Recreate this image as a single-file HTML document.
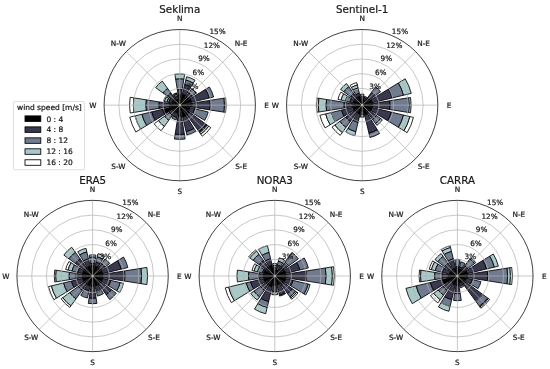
<!DOCTYPE html><html><head><meta charset="utf-8"><style>html,body{margin:0;padding:0;background:#fff;}svg{display:block;}text{font-family:"DejaVu Sans","Liberation Sans",sans-serif;fill:#1a1a1a;stroke:#1a1a1a;stroke-width:0.22px;}</style></head><body>
<svg width="550" height="369" viewBox="0 0 550 369">
<rect width="550" height="369" fill="#fff"/>
<g><path d="M208.72 126.2L210.76 127.68A38.33 38.33 0 0 1 202.28 136.16L200.8 134.12A35.81 35.81 0 0 0 208.72 126.2ZM164.34 126.37L161.07 130.85A31.77 31.77 0 0 1 154.05 123.83L158.53 120.56A26.23 26.23 0 0 0 164.34 126.37ZM140.62 129.13L135.89 132.03A51.44 51.44 0 0 1 129.73 117.16L135.12 115.86A45.89 45.89 0 0 0 140.62 129.13ZM133.92 112.41L130.19 113A50.18 50.18 0 0 1 130.19 97.3L133.92 97.89A46.4 46.4 0 0 0 133.92 112.41ZM164.55 101.5L163.57 101.26A16.64 16.64 0 0 1 165.56 96.45L166.42 96.98A15.63 15.63 0 0 0 164.55 101.5ZM173.43 94.83L173.16 94.4A12.61 12.61 0 0 1 176.81 92.89L176.92 93.38A12.1 12.1 0 0 0 173.43 94.83Z" fill="#ffffff" stroke="#000" stroke-width="0.85"/><path d="M175.65 79.25L174.86 74.27A31.27 31.27 0 0 1 184.64 74.27L183.85 79.25A26.23 26.23 0 0 0 175.65 79.25ZM185.75 80.14L186.58 76.71A29.25 29.25 0 0 1 195.03 80.21L193.19 83.22A25.72 25.72 0 0 0 185.75 80.14ZM191.61 88.83L191.9 88.42A20.68 20.68 0 0 1 196.48 93L196.07 93.29A20.17 20.17 0 0 0 191.61 88.83ZM223.83 98.17L225.58 97.89A46.4 46.4 0 0 1 225.58 112.41L223.83 112.13A44.63 44.63 0 0 0 223.83 98.17ZM207.09 125.01L208.72 126.2A35.81 35.81 0 0 1 200.8 134.12L199.61 132.49A33.79 33.79 0 0 0 207.09 125.01ZM168.78 120.25L164.34 126.37A26.23 26.23 0 0 1 158.53 120.56L164.65 116.12A18.66 18.66 0 0 0 168.78 120.25ZM146.64 125.44L140.62 129.13A45.89 45.89 0 0 1 135.12 115.86L141.99 114.22A38.83 38.83 0 0 0 146.64 125.44ZM146.38 110.44L133.92 112.41A46.4 46.4 0 0 1 133.92 97.89L146.38 99.86A33.79 33.79 0 0 0 146.38 110.44ZM167 102.09L164.55 101.5A15.63 15.63 0 0 1 166.42 96.98L168.57 98.3A13.11 13.11 0 0 0 167 102.09ZM163.02 93L155.68 87.66A29.76 29.76 0 0 1 162.26 81.08L167.6 88.42A20.68 20.68 0 0 0 163.02 93ZM173.95 95.69L173.43 94.83A12.1 12.1 0 0 1 176.92 93.38L177.16 94.36A11.1 11.1 0 0 0 173.95 95.69Z" fill="#a9c8c8" stroke="#000" stroke-width="0.85"/><path d="M177.3 89.71L175.65 79.25A26.23 26.23 0 0 1 183.85 79.25L182.2 89.71A15.63 15.63 0 0 0 177.3 89.71ZM184.69 84.55L185.75 80.14A25.72 25.72 0 0 1 193.19 83.22L190.82 87.09A21.18 21.18 0 0 0 184.69 84.55ZM188.64 92.91L191.61 88.83A20.17 20.17 0 0 1 196.07 93.29L191.99 96.26A15.13 15.13 0 0 0 188.64 92.91ZM205.55 89.34L209.42 86.97A34.8 34.8 0 0 1 213.59 97.03L209.17 98.09A30.26 30.26 0 0 0 205.55 89.34ZM209.64 100.42L223.83 98.17A44.63 44.63 0 0 1 223.83 112.13L209.64 109.88A30.26 30.26 0 0 0 209.64 100.42ZM194.46 108.68L208.19 111.98A29.25 29.25 0 0 1 204.69 120.43L192.65 113.06A15.13 15.13 0 0 0 194.46 108.68ZM206.27 124.42L207.09 125.01A33.79 33.79 0 0 1 199.61 132.49L199.02 131.67A32.78 32.78 0 0 0 206.27 124.42ZM193.98 128.37L195.82 131.38A30.76 30.76 0 0 1 186.93 135.06L186.11 131.63A27.23 27.23 0 0 0 193.98 128.37ZM184.33 134.04L185.11 139.02A34.29 34.29 0 0 1 174.39 139.02L175.17 134.04A29.25 29.25 0 0 0 184.33 134.04ZM176.81 117.41L176.22 119.86A15.13 15.13 0 0 1 171.84 118.05L173.16 115.9A12.61 12.61 0 0 0 176.81 117.41ZM172.34 115.35L168.78 120.25A18.66 18.66 0 0 1 164.65 116.12L169.55 112.56A12.61 12.61 0 0 0 172.34 115.35ZM155.24 120.17L146.64 125.44A38.83 38.83 0 0 1 141.99 114.22L151.8 111.86A28.75 28.75 0 0 0 155.24 120.17ZM159.33 108.38L146.38 110.44A33.79 33.79 0 0 1 146.38 99.86L159.33 101.92A20.68 20.68 0 0 0 159.33 108.38ZM168.96 102.56L167 102.09A13.11 13.11 0 0 1 168.57 98.3L170.29 99.35A11.1 11.1 0 0 0 168.96 102.56ZM167.51 96.26L163.02 93A20.68 20.68 0 0 1 167.6 88.42L170.86 92.91A15.13 15.13 0 0 0 167.51 96.26ZM175.01 97.41L173.95 95.69A11.1 11.1 0 0 1 177.16 94.36L177.63 96.32A9.08 9.08 0 0 0 175.01 97.41Z" fill="#707b90" stroke="#000" stroke-width="0.85"/><path d="M178.17 95.19L177.3 89.71A15.63 15.63 0 0 1 182.2 89.71L181.33 95.19A10.09 10.09 0 0 0 178.17 95.19ZM182.34 94.36L184.69 84.55A21.18 21.18 0 0 1 190.82 87.09L185.55 95.69A11.1 11.1 0 0 0 182.34 94.36ZM186.27 96.17L188.64 92.91A15.13 15.13 0 0 1 191.99 96.26L188.73 98.63A11.1 11.1 0 0 0 186.27 96.17ZM190.07 98.83L205.55 89.34A30.26 30.26 0 0 1 209.17 98.09L191.52 102.32A12.1 12.1 0 0 0 190.07 98.83ZM191.7 103.26L209.64 100.42A30.26 30.26 0 0 1 209.64 109.88L191.7 107.04A12.1 12.1 0 0 0 191.7 103.26ZM189.56 107.5L194.46 108.68A15.13 15.13 0 0 1 192.65 113.06L188.35 110.42A10.09 10.09 0 0 0 189.56 107.5ZM189.54 112.26L206.27 124.42A32.78 32.78 0 0 1 199.02 131.67L186.86 114.94A12.1 12.1 0 0 0 189.54 112.26ZM186.07 115.47L193.98 128.37A27.23 27.23 0 0 1 186.11 131.63L182.58 116.92A12.1 12.1 0 0 0 186.07 115.47ZM181.49 116.11L184.33 134.04A29.25 29.25 0 0 1 175.17 134.04L178.01 116.11A11.1 11.1 0 0 0 181.49 116.11ZM177.87 113L176.81 117.41A12.61 12.61 0 0 1 173.16 115.9L175.53 112.03A8.07 8.07 0 0 0 177.87 113ZM175.01 111.68L172.34 115.35A12.61 12.61 0 0 1 169.55 112.56L173.22 109.89A8.07 8.07 0 0 0 175.01 111.68ZM164.7 114.37L155.24 120.17A28.75 28.75 0 0 1 151.8 111.86L162.59 109.27A17.65 17.65 0 0 0 164.7 114.37ZM169.79 106.73L159.33 108.38A20.68 20.68 0 0 1 159.33 101.92L169.79 103.57A10.09 10.09 0 0 0 169.79 106.73ZM171.9 103.27L168.96 102.56A11.1 11.1 0 0 1 170.29 99.35L172.87 100.93A8.07 8.07 0 0 0 171.9 103.27ZM173.22 100.41L167.51 96.26A15.13 15.13 0 0 1 170.86 92.91L175.01 98.62A8.07 8.07 0 0 0 173.22 100.41ZM176.59 99.99L175.01 97.41A9.08 9.08 0 0 1 177.63 96.32L178.34 99.27A6.05 6.05 0 0 0 176.59 99.99Z" fill="#38384e" stroke="#000" stroke-width="0.85"/><path d="M179.52 103.67L178.17 95.19A10.09 10.09 0 0 1 181.33 95.19L179.98 103.67A1.5 1.5 0 0 0 179.52 103.67ZM180.1 103.69L182.34 94.36A11.1 11.1 0 0 1 185.55 95.69L180.53 103.87A1.5 1.5 0 0 0 180.1 103.69ZM180.63 103.94L186.27 96.17A11.1 11.1 0 0 1 188.73 98.63L180.96 104.27A1.5 1.5 0 0 0 180.63 103.94ZM181.03 104.37L190.07 98.83A12.1 12.1 0 0 1 191.52 102.32L181.21 104.8A1.5 1.5 0 0 0 181.03 104.37ZM181.23 104.92L191.7 103.26A12.1 12.1 0 0 1 191.7 107.04L181.23 105.38A1.5 1.5 0 0 0 181.23 104.92ZM181.21 105.5L189.56 107.5A10.09 10.09 0 0 1 188.35 110.42L181.03 105.93A1.5 1.5 0 0 0 181.21 105.5ZM180.96 106.03L189.54 112.26A12.1 12.1 0 0 1 186.86 114.94L180.63 106.36A1.5 1.5 0 0 0 180.96 106.03ZM180.53 106.43L186.07 115.47A12.1 12.1 0 0 1 182.58 116.92L180.1 106.61A1.5 1.5 0 0 0 180.53 106.43ZM179.98 106.63L181.49 116.11A11.1 11.1 0 0 1 178.01 116.11L179.52 106.63A1.5 1.5 0 0 0 179.98 106.63ZM179.4 106.61L177.87 113A8.07 8.07 0 0 1 175.53 112.03L178.97 106.43A1.5 1.5 0 0 0 179.4 106.61ZM178.87 106.36L175.01 111.68A8.07 8.07 0 0 1 173.22 109.89L178.54 106.03A1.5 1.5 0 0 0 178.87 106.36ZM178.47 105.93L164.7 114.37A17.65 17.65 0 0 1 162.59 109.27L178.29 105.5A1.5 1.5 0 0 0 178.47 105.93ZM178.27 105.38L169.79 106.73A10.09 10.09 0 0 1 169.79 103.57L178.27 104.92A1.5 1.5 0 0 0 178.27 105.38ZM178.29 104.8L171.9 103.27A8.07 8.07 0 0 1 172.87 100.93L178.47 104.37A1.5 1.5 0 0 0 178.29 104.8ZM178.54 104.27L173.22 100.41A8.07 8.07 0 0 1 175.01 98.62L178.87 103.94A1.5 1.5 0 0 0 178.54 104.27ZM178.97 103.87L176.59 99.99A6.05 6.05 0 0 1 178.34 99.27L179.4 103.69A1.5 1.5 0 0 0 178.97 103.87Z" fill="#000000" stroke="#000" stroke-width="0.85"/><circle cx="179.75" cy="105.15" r="16.7" fill="none" stroke="#b0b0b0" stroke-width="0.7"/><circle cx="179.75" cy="105.15" r="31.44" fill="none" stroke="#b0b0b0" stroke-width="0.7"/><circle cx="179.75" cy="105.15" r="46.17" fill="none" stroke="#b0b0b0" stroke-width="0.7"/><circle cx="179.75" cy="105.15" r="60.91" fill="none" stroke="#b0b0b0" stroke-width="0.7"/><line x1="179.75" y1="105.15" x2="179.75" y2="29.5" stroke="#b0b0b0" stroke-width="0.7"/><line x1="179.75" y1="105.15" x2="233.24" y2="51.66" stroke="#b0b0b0" stroke-width="0.7"/><line x1="179.75" y1="105.15" x2="255.4" y2="105.15" stroke="#b0b0b0" stroke-width="0.7"/><line x1="179.75" y1="105.15" x2="233.24" y2="158.64" stroke="#b0b0b0" stroke-width="0.7"/><line x1="179.75" y1="105.15" x2="179.75" y2="180.8" stroke="#b0b0b0" stroke-width="0.7"/><line x1="179.75" y1="105.15" x2="126.26" y2="158.64" stroke="#b0b0b0" stroke-width="0.7"/><line x1="179.75" y1="105.15" x2="104.1" y2="105.15" stroke="#b0b0b0" stroke-width="0.7"/><line x1="179.75" y1="105.15" x2="126.26" y2="51.66" stroke="#b0b0b0" stroke-width="0.7"/><circle cx="179.75" cy="105.15" r="75.65" fill="none" stroke="#000" stroke-width="0.75"/><text x="179.75" y="18.35" font-size="7.3" text-anchor="middle" dominant-baseline="central">N</text><text x="241.13" y="43.77" font-size="7.3" text-anchor="middle" dominant-baseline="central">N-E</text><text x="266.55" y="105.15" font-size="7.3" text-anchor="middle" dominant-baseline="central">E</text><text x="241.13" y="166.53" font-size="7.3" text-anchor="middle" dominant-baseline="central">S-E</text><text x="179.75" y="191.95" font-size="7.3" text-anchor="middle" dominant-baseline="central">S</text><text x="118.37" y="166.53" font-size="7.3" text-anchor="middle" dominant-baseline="central">S-W</text><text x="92.95" y="105.15" font-size="7.3" text-anchor="middle" dominant-baseline="central">W</text><text x="118.37" y="43.77" font-size="7.3" text-anchor="middle" dominant-baseline="central">N-W</text><text x="186.85" y="88.64" font-size="7.3">3%</text><text x="192.49" y="75.03" font-size="7.3">6%</text><text x="198.13" y="61.41" font-size="7.3">9%</text><text x="203.77" y="47.79" font-size="7.3">12%</text><text x="209.41" y="34.18" font-size="7.3">15%</text><text x="179.75" y="13" font-size="10.3" text-anchor="middle">Seklima</text></g>
<g><path d="M409.77 116.57L413.45 117.45A52.7 52.7 0 0 1 407.14 132.69L403.91 130.71A48.92 48.92 0 0 0 409.77 116.57ZM342.34 132.49L340.26 135.34A37.32 37.32 0 0 1 332.01 127.09L334.86 125.01A33.79 33.79 0 0 0 342.34 132.49ZM330.16 124.78L325.09 127.89A43.52 43.52 0 0 1 319.88 115.31L325.67 113.92A37.57 37.57 0 0 0 330.16 124.78ZM318.86 112.01L317.12 112.29A45.64 45.64 0 0 1 317.12 98.01L318.86 98.29A43.88 43.88 0 0 0 318.86 112.01ZM341.11 100.09L337.93 99.32A24.96 24.96 0 0 1 340.91 92.11L343.71 93.82A21.69 21.69 0 0 0 341.11 100.09ZM351.4 87.52L350.08 85.37A23.2 23.2 0 0 1 356.78 82.59L357.37 85.04A20.68 20.68 0 0 0 351.4 87.52Z" fill="#ffffff" stroke="#000" stroke-width="0.85"/><path d="M398.32 83.01L405.2 78.8A50.43 50.43 0 0 1 411.24 93.38L403.39 95.26A42.36 42.36 0 0 0 398.32 83.01ZM408.53 97.81L410.52 97.5A48.92 48.92 0 0 1 410.52 112.8L408.53 112.49A46.9 46.9 0 0 0 408.53 97.81ZM403.39 115.04L409.77 116.57A48.92 48.92 0 0 1 403.91 130.71L398.32 127.29A42.36 42.36 0 0 0 403.39 115.04ZM380.56 118.49L382.4 119.82A24.96 24.96 0 0 1 376.87 125.35L375.54 123.51A22.7 22.7 0 0 0 380.56 118.49ZM355.84 131.63L354.84 135.8A31.52 31.52 0 0 1 345.73 132.03L347.97 128.37A27.23 27.23 0 0 0 355.84 131.63ZM346.04 127.39L342.34 132.49A33.79 33.79 0 0 1 334.86 125.01L339.96 121.31A27.49 27.49 0 0 0 346.04 127.39ZM335.32 121.62L330.16 124.78A37.57 37.57 0 0 1 325.67 113.92L331.55 112.51A31.52 31.52 0 0 0 335.32 121.62ZM326.58 110.79L318.86 112.01A43.88 43.88 0 0 1 318.86 98.29L326.58 99.51A36.06 36.06 0 0 0 326.58 110.79ZM345.53 101.15L341.11 100.09A21.69 21.69 0 0 1 343.71 93.82L347.58 96.19A17.15 17.15 0 0 0 345.53 101.15ZM343.84 91.81L340.58 89.44A26.73 26.73 0 0 1 346.49 83.53L348.86 86.79A22.7 22.7 0 0 0 343.84 91.81ZM352.98 90.1L351.4 87.52A20.68 20.68 0 0 1 357.37 85.04L358.08 87.99A17.65 17.65 0 0 0 352.98 90.1Z" fill="#a9c8c8" stroke="#000" stroke-width="0.85"/><path d="M360.86 96.68L360.46 94.19A11.1 11.1 0 0 1 363.94 94.19L363.54 96.68A8.57 8.57 0 0 0 360.86 96.68ZM363.97 97.79L364.32 96.32A9.08 9.08 0 0 1 366.94 97.41L366.15 98.7A7.57 7.57 0 0 0 363.97 97.79ZM371.69 92.09L375.54 86.79A22.7 22.7 0 0 1 380.56 91.81L375.26 95.66A16.14 16.14 0 0 0 371.69 92.09ZM388.43 89.08L398.32 83.01A42.36 42.36 0 0 1 403.39 95.26L392.11 97.97A30.76 30.76 0 0 0 388.43 89.08ZM389.6 100.81L408.53 97.81A46.9 46.9 0 0 1 408.53 112.49L389.6 109.49A27.74 27.74 0 0 0 389.6 100.81ZM391.13 112.1L403.39 115.04A42.36 42.36 0 0 1 398.32 127.29L387.57 120.7A29.76 29.76 0 0 0 391.13 112.1ZM376.48 115.53L380.56 118.49A22.7 22.7 0 0 1 375.54 123.51L372.58 119.43A17.65 17.65 0 0 0 376.48 115.53ZM377.22 129.66L379.59 133.53A33.29 33.29 0 0 1 369.97 137.52L368.91 133.1A28.75 28.75 0 0 0 377.22 129.66ZM363.62 114.12L364.09 117.1A12.1 12.1 0 0 1 360.31 117.1L360.78 114.12A9.08 9.08 0 0 0 363.62 114.12ZM358.08 122.31L355.84 131.63A27.23 27.23 0 0 1 347.97 128.37L352.98 120.2A17.65 17.65 0 0 0 358.08 122.31ZM350.34 121.47L346.04 127.39A27.49 27.49 0 0 1 339.96 121.31L345.88 117.01A20.17 20.17 0 0 0 350.34 121.47ZM344.14 116.22L335.32 121.62A31.52 31.52 0 0 1 331.55 112.51L341.6 110.09A21.18 21.18 0 0 0 344.14 116.22ZM344.27 107.99L326.58 110.79A36.06 36.06 0 0 1 326.58 99.51L344.27 102.31A18.16 18.16 0 0 0 344.27 107.99ZM349.94 102.21L345.53 101.15A17.15 17.15 0 0 1 347.58 96.19L351.45 98.56A12.61 12.61 0 0 0 349.94 102.21ZM350.78 96.85L343.84 91.81A22.7 22.7 0 0 1 348.86 86.79L353.9 93.73A14.12 14.12 0 0 0 350.78 96.85ZM355.88 94.83L352.98 90.1A17.65 17.65 0 0 1 358.08 87.99L359.37 93.38A12.1 12.1 0 0 0 355.88 94.83Z" fill="#707b90" stroke="#000" stroke-width="0.85"/><path d="M361.25 99.17L360.86 96.68A8.57 8.57 0 0 1 363.54 96.68L363.15 99.17A6.05 6.05 0 0 0 361.25 99.17ZM363.38 100.25L363.97 97.79A7.57 7.57 0 0 1 366.15 98.7L364.84 100.85A5.04 5.04 0 0 0 363.38 100.25ZM367.54 97.81L371.69 92.09A16.14 16.14 0 0 1 375.26 95.66L369.54 99.81A9.08 9.08 0 0 0 367.54 97.81ZM370.8 99.88L388.43 89.08A30.76 30.76 0 0 1 392.11 97.97L372.01 102.8A10.09 10.09 0 0 0 370.8 99.88ZM372.16 103.57L389.6 100.81A27.74 27.74 0 0 1 389.6 109.49L372.16 106.73A10.09 10.09 0 0 0 372.16 103.57ZM372.01 107.5L391.13 112.1A29.76 29.76 0 0 1 387.57 120.7L370.8 110.42A10.09 10.09 0 0 0 372.01 107.5ZM369.54 110.49L376.48 115.53A17.65 17.65 0 0 1 372.58 119.43L367.54 112.49A9.08 9.08 0 0 0 369.54 110.49ZM367.47 113.75L377.22 129.66A28.75 28.75 0 0 1 368.91 133.1L364.55 114.96A10.09 10.09 0 0 0 367.47 113.75ZM363.15 111.13L363.62 114.12A9.08 9.08 0 0 1 360.78 114.12L361.25 111.13A6.05 6.05 0 0 0 363.15 111.13ZM360.08 113.98L358.08 122.31A17.65 17.65 0 0 1 352.98 120.2L357.46 112.89A9.08 9.08 0 0 0 360.08 113.98ZM356.86 112.49L350.34 121.47A20.17 20.17 0 0 1 345.88 117.01L354.86 110.49A9.08 9.08 0 0 0 356.86 112.49ZM354.46 109.89L344.14 116.22A21.18 21.18 0 0 1 341.6 110.09L353.37 107.27A9.08 9.08 0 0 0 354.46 109.89ZM353.23 106.57L344.27 107.99A18.16 18.16 0 0 1 344.27 102.31L353.23 103.73A9.08 9.08 0 0 0 353.23 106.57ZM353.37 103.03L349.94 102.21A12.61 12.61 0 0 1 351.45 98.56L354.46 100.41A9.08 9.08 0 0 0 353.37 103.03ZM354.86 99.81L350.78 96.85A14.12 14.12 0 0 1 353.9 93.73L356.86 97.81A9.08 9.08 0 0 0 354.86 99.81ZM357.46 97.41L355.88 94.83A12.1 12.1 0 0 1 359.37 93.38L360.08 96.32A9.08 9.08 0 0 0 357.46 97.41Z" fill="#38384e" stroke="#000" stroke-width="0.85"/><path d="M361.97 103.67L361.25 99.17A6.05 6.05 0 0 1 363.15 99.17L362.43 103.67A1.5 1.5 0 0 0 361.97 103.67ZM362.55 103.69L363.38 100.25A5.04 5.04 0 0 1 364.84 100.85L362.98 103.87A1.5 1.5 0 0 0 362.55 103.69ZM363.08 103.94L367.54 97.81A9.08 9.08 0 0 1 369.54 99.81L363.41 104.27A1.5 1.5 0 0 0 363.08 103.94ZM363.48 104.37L370.8 99.88A10.09 10.09 0 0 1 372.01 102.8L363.66 104.8A1.5 1.5 0 0 0 363.48 104.37ZM363.68 104.92L372.16 103.57A10.09 10.09 0 0 1 372.16 106.73L363.68 105.38A1.5 1.5 0 0 0 363.68 104.92ZM363.66 105.5L372.01 107.5A10.09 10.09 0 0 1 370.8 110.42L363.48 105.93A1.5 1.5 0 0 0 363.66 105.5ZM363.41 106.03L369.54 110.49A9.08 9.08 0 0 1 367.54 112.49L363.08 106.36A1.5 1.5 0 0 0 363.41 106.03ZM362.98 106.43L367.47 113.75A10.09 10.09 0 0 1 364.55 114.96L362.55 106.61A1.5 1.5 0 0 0 362.98 106.43ZM362.43 106.63L363.15 111.13A6.05 6.05 0 0 1 361.25 111.13L361.97 106.63A1.5 1.5 0 0 0 362.43 106.63ZM361.85 106.61L360.08 113.98A9.08 9.08 0 0 1 357.46 112.89L361.42 106.43A1.5 1.5 0 0 0 361.85 106.61ZM361.32 106.36L356.86 112.49A9.08 9.08 0 0 1 354.86 110.49L360.99 106.03A1.5 1.5 0 0 0 361.32 106.36ZM360.92 105.93L354.46 109.89A9.08 9.08 0 0 1 353.37 107.27L360.74 105.5A1.5 1.5 0 0 0 360.92 105.93ZM360.72 105.38L353.23 106.57A9.08 9.08 0 0 1 353.23 103.73L360.72 104.92A1.5 1.5 0 0 0 360.72 105.38ZM360.74 104.8L353.37 103.03A9.08 9.08 0 0 1 354.46 100.41L360.92 104.37A1.5 1.5 0 0 0 360.74 104.8ZM360.99 104.27L354.86 99.81A9.08 9.08 0 0 1 356.86 97.81L361.32 103.94A1.5 1.5 0 0 0 360.99 104.27ZM361.42 103.87L357.46 97.41A9.08 9.08 0 0 1 360.08 96.32L361.85 103.69A1.5 1.5 0 0 0 361.42 103.87Z" fill="#000000" stroke="#000" stroke-width="0.85"/><circle cx="362.2" cy="105.15" r="16.7" fill="none" stroke="#b0b0b0" stroke-width="0.7"/><circle cx="362.2" cy="105.15" r="31.44" fill="none" stroke="#b0b0b0" stroke-width="0.7"/><circle cx="362.2" cy="105.15" r="46.17" fill="none" stroke="#b0b0b0" stroke-width="0.7"/><circle cx="362.2" cy="105.15" r="60.91" fill="none" stroke="#b0b0b0" stroke-width="0.7"/><line x1="362.2" y1="105.15" x2="362.2" y2="29.5" stroke="#b0b0b0" stroke-width="0.7"/><line x1="362.2" y1="105.15" x2="415.69" y2="51.66" stroke="#b0b0b0" stroke-width="0.7"/><line x1="362.2" y1="105.15" x2="437.85" y2="105.15" stroke="#b0b0b0" stroke-width="0.7"/><line x1="362.2" y1="105.15" x2="415.69" y2="158.64" stroke="#b0b0b0" stroke-width="0.7"/><line x1="362.2" y1="105.15" x2="362.2" y2="180.8" stroke="#b0b0b0" stroke-width="0.7"/><line x1="362.2" y1="105.15" x2="308.71" y2="158.64" stroke="#b0b0b0" stroke-width="0.7"/><line x1="362.2" y1="105.15" x2="286.55" y2="105.15" stroke="#b0b0b0" stroke-width="0.7"/><line x1="362.2" y1="105.15" x2="308.71" y2="51.66" stroke="#b0b0b0" stroke-width="0.7"/><circle cx="362.2" cy="105.15" r="75.65" fill="none" stroke="#000" stroke-width="0.75"/><text x="362.2" y="18.35" font-size="7.3" text-anchor="middle" dominant-baseline="central">N</text><text x="423.58" y="43.77" font-size="7.3" text-anchor="middle" dominant-baseline="central">N-E</text><text x="449" y="105.15" font-size="7.3" text-anchor="middle" dominant-baseline="central">E</text><text x="423.58" y="166.53" font-size="7.3" text-anchor="middle" dominant-baseline="central">S-E</text><text x="362.2" y="191.95" font-size="7.3" text-anchor="middle" dominant-baseline="central">S</text><text x="300.82" y="166.53" font-size="7.3" text-anchor="middle" dominant-baseline="central">S-W</text><text x="275.4" y="105.15" font-size="7.3" text-anchor="middle" dominant-baseline="central">W</text><text x="300.82" y="43.77" font-size="7.3" text-anchor="middle" dominant-baseline="central">N-W</text><text x="369.3" y="88.64" font-size="7.3">3%</text><text x="374.94" y="75.03" font-size="7.3">6%</text><text x="380.58" y="61.41" font-size="7.3">9%</text><text x="386.22" y="47.79" font-size="7.3">12%</text><text x="391.86" y="34.18" font-size="7.3">15%</text><text x="362.2" y="13" font-size="10.3" text-anchor="middle">Sentinel-1</text></g>
<g><path d="M70.96 305.79L69.77 307.42A38.83 38.83 0 0 1 61.18 298.83L62.81 297.64A36.82 36.82 0 0 0 70.96 305.79ZM56.48 298.14L53.9 299.72A45.39 45.39 0 0 1 48.46 286.6L51.41 285.89A42.36 42.36 0 0 0 56.48 298.14ZM56.24 281.76L54.74 282A38.33 38.33 0 0 1 54.74 270L56.24 270.24A36.82 36.82 0 0 0 56.24 281.76ZM68.08 270.11L65.63 269.52A27.74 27.74 0 0 1 68.95 261.51L71.1 262.82A25.22 25.22 0 0 0 68.08 270.11Z" fill="#ffffff" stroke="#000" stroke-width="0.85"/><path d="M89.64 257.32L89.29 255.08A21.18 21.18 0 0 1 95.91 255.08L95.56 257.32A18.91 18.91 0 0 0 89.64 257.32ZM97.19 256.87L97.96 253.69A22.95 22.95 0 0 1 104.59 256.43L102.88 259.23A19.67 19.67 0 0 0 97.19 256.87ZM140.92 268.35L146.9 267.4A54.97 54.97 0 0 1 146.9 284.6L140.92 283.65A48.92 48.92 0 0 0 140.92 268.35ZM120.06 282.59L123.5 283.42A31.77 31.77 0 0 1 119.69 292.6L116.68 290.76A28.24 28.24 0 0 0 120.06 282.59ZM76 298.85L70.96 305.79A36.82 36.82 0 0 1 62.81 297.64L69.75 292.6A28.24 28.24 0 0 0 76 298.85ZM67.23 291.55L56.48 298.14A42.36 42.36 0 0 1 51.41 285.89L63.67 282.95A29.76 29.76 0 0 0 67.23 291.55ZM69.44 279.67L56.24 281.76A36.82 36.82 0 0 1 56.24 270.24L69.44 272.33A23.45 23.45 0 0 0 69.44 279.67ZM72 271.06L68.08 270.11A25.22 25.22 0 0 1 71.1 262.82L74.54 264.93A21.18 21.18 0 0 0 72 271.06ZM68.94 258.81L63.83 255.1A35.56 35.56 0 0 1 71.7 247.23L75.41 252.34A29.25 29.25 0 0 0 68.94 258.81ZM79.69 254.93L77.71 251.7A28.49 28.49 0 0 1 85.95 248.29L86.83 251.97A24.71 24.71 0 0 0 79.69 254.93Z" fill="#a9c8c8" stroke="#000" stroke-width="0.85"/><path d="M90.63 263.55L89.64 257.32A18.91 18.91 0 0 1 95.56 257.32L94.57 263.55A12.61 12.61 0 0 0 90.63 263.55ZM95.9 262.27L97.19 256.87A19.67 19.67 0 0 1 102.88 259.23L99.98 263.96A14.12 14.12 0 0 0 95.9 262.27ZM101.49 263.76L105.05 258.86A21.18 21.18 0 0 1 109.74 263.55L104.84 267.11A15.13 15.13 0 0 0 101.49 263.76ZM117.54 260.72L123.56 257.03A36.31 36.31 0 0 1 127.91 267.52L121.04 269.17A29.25 29.25 0 0 0 117.54 260.72ZM124.48 270.95L140.92 268.35A48.92 48.92 0 0 1 140.92 283.65L124.48 281.05A32.28 32.28 0 0 0 124.48 270.95ZM110.74 280.36L120.06 282.59A28.24 28.24 0 0 1 116.68 290.76L108.51 285.75A18.66 18.66 0 0 0 110.74 280.36ZM111.37 289.64L116.26 293.19A29.25 29.25 0 0 1 109.79 299.66L106.24 294.77A23.2 23.2 0 0 0 111.37 289.64ZM101.3 290.19L103.4 293.63A20.68 20.68 0 0 1 97.43 296.11L96.49 292.18A16.64 16.64 0 0 0 101.3 290.19ZM96.07 297.92L96.94 303.4A27.74 27.74 0 0 1 88.26 303.4L89.13 297.92A22.19 22.19 0 0 0 96.07 297.92ZM89.07 290.71L87.3 298.07A22.7 22.7 0 0 1 80.74 295.35L84.69 288.9A15.13 15.13 0 0 0 89.07 290.71ZM82.22 290.28L76 298.85A28.24 28.24 0 0 1 69.75 292.6L78.32 286.38A17.65 17.65 0 0 0 82.22 290.28ZM74.11 287.33L67.23 291.55A29.76 29.76 0 0 1 63.67 282.95L71.51 281.06A21.69 21.69 0 0 0 74.11 287.33ZM75.66 278.68L69.44 279.67A23.45 23.45 0 0 1 69.44 272.33L75.66 273.32A17.15 17.15 0 0 0 75.66 278.68ZM77.89 272.47L72 271.06A21.18 21.18 0 0 1 74.54 264.93L79.7 268.09A15.13 15.13 0 0 0 77.89 272.47ZM75.46 263.55L68.94 258.81A29.25 29.25 0 0 1 75.41 252.34L80.15 258.86A21.18 21.18 0 0 0 75.46 263.55ZM83.38 260.95L79.69 254.93A24.71 24.71 0 0 1 86.83 251.97L88.48 258.84A17.65 17.65 0 0 0 83.38 260.95Z" fill="#707b90" stroke="#000" stroke-width="0.85"/><path d="M91.02 266.04L90.63 263.55A12.61 12.61 0 0 1 94.57 263.55L94.18 266.04A10.09 10.09 0 0 0 91.02 266.04ZM94.95 266.19L95.9 262.27A14.12 14.12 0 0 1 99.98 263.96L97.87 267.4A10.09 10.09 0 0 0 94.95 266.19ZM98.53 267.84L101.49 263.76A15.13 15.13 0 0 1 104.84 267.11L100.76 270.07A10.09 10.09 0 0 0 98.53 267.84ZM101.2 270.73L117.54 260.72A29.25 29.25 0 0 1 121.04 269.17L102.41 273.65A10.09 10.09 0 0 0 101.2 270.73ZM102.56 274.42L124.48 270.95A32.28 32.28 0 0 1 124.48 281.05L102.56 277.58A10.09 10.09 0 0 0 102.56 274.42ZM102.41 278.35L110.74 280.36A18.66 18.66 0 0 1 108.51 285.75L101.2 281.27A10.09 10.09 0 0 0 102.41 278.35ZM100.76 281.93L111.37 289.64A23.2 23.2 0 0 1 106.24 294.77L98.53 284.16A10.09 10.09 0 0 0 100.76 281.93ZM97.87 284.6L101.3 290.19A16.64 16.64 0 0 1 96.49 292.18L94.95 285.81A10.09 10.09 0 0 0 97.87 284.6ZM94.18 285.96L96.07 297.92A22.19 22.19 0 0 1 89.13 297.92L91.02 285.96A10.09 10.09 0 0 0 94.18 285.96ZM90.25 285.81L89.07 290.71A15.13 15.13 0 0 1 84.69 288.9L87.33 284.6A10.09 10.09 0 0 0 90.25 285.81ZM86.67 284.16L82.22 290.28A17.65 17.65 0 0 1 78.32 286.38L84.44 281.93A10.09 10.09 0 0 0 86.67 284.16ZM84 281.27L74.11 287.33A21.69 21.69 0 0 1 71.51 281.06L82.79 278.35A10.09 10.09 0 0 0 84 281.27ZM82.64 277.58L75.66 278.68A17.15 17.15 0 0 1 75.66 273.32L82.64 274.42A10.09 10.09 0 0 0 82.64 277.58ZM82.79 273.65L77.89 272.47A15.13 15.13 0 0 1 79.7 268.09L84 270.73A10.09 10.09 0 0 0 82.79 273.65ZM84.44 270.07L75.46 263.55A21.18 21.18 0 0 1 80.15 258.86L86.67 267.84A10.09 10.09 0 0 0 84.44 270.07ZM87.33 267.4L83.38 260.95A17.65 17.65 0 0 1 88.48 258.84L90.25 266.19A10.09 10.09 0 0 0 87.33 267.4Z" fill="#38384e" stroke="#000" stroke-width="0.85"/><path d="M92.37 274.52L91.02 266.04A10.09 10.09 0 0 1 94.18 266.04L92.83 274.52A1.5 1.5 0 0 0 92.37 274.52ZM92.95 274.54L94.95 266.19A10.09 10.09 0 0 1 97.87 267.4L93.38 274.72A1.5 1.5 0 0 0 92.95 274.54ZM93.48 274.79L98.53 267.84A10.09 10.09 0 0 1 100.76 270.07L93.81 275.12A1.5 1.5 0 0 0 93.48 274.79ZM93.88 275.22L101.2 270.73A10.09 10.09 0 0 1 102.41 273.65L94.06 275.65A1.5 1.5 0 0 0 93.88 275.22ZM94.08 275.77L102.56 274.42A10.09 10.09 0 0 1 102.56 277.58L94.08 276.23A1.5 1.5 0 0 0 94.08 275.77ZM94.06 276.35L102.41 278.35A10.09 10.09 0 0 1 101.2 281.27L93.88 276.78A1.5 1.5 0 0 0 94.06 276.35ZM93.81 276.88L100.76 281.93A10.09 10.09 0 0 1 98.53 284.16L93.48 277.21A1.5 1.5 0 0 0 93.81 276.88ZM93.38 277.28L97.87 284.6A10.09 10.09 0 0 1 94.95 285.81L92.95 277.46A1.5 1.5 0 0 0 93.38 277.28ZM92.83 277.48L94.18 285.96A10.09 10.09 0 0 1 91.02 285.96L92.37 277.48A1.5 1.5 0 0 0 92.83 277.48ZM92.25 277.46L90.25 285.81A10.09 10.09 0 0 1 87.33 284.6L91.82 277.28A1.5 1.5 0 0 0 92.25 277.46ZM91.72 277.21L86.67 284.16A10.09 10.09 0 0 1 84.44 281.93L91.39 276.88A1.5 1.5 0 0 0 91.72 277.21ZM91.32 276.78L84 281.27A10.09 10.09 0 0 1 82.79 278.35L91.14 276.35A1.5 1.5 0 0 0 91.32 276.78ZM91.12 276.23L82.64 277.58A10.09 10.09 0 0 1 82.64 274.42L91.12 275.77A1.5 1.5 0 0 0 91.12 276.23ZM91.14 275.65L82.79 273.65A10.09 10.09 0 0 1 84 270.73L91.32 275.22A1.5 1.5 0 0 0 91.14 275.65ZM91.39 275.12L84.44 270.07A10.09 10.09 0 0 1 86.67 267.84L91.72 274.79A1.5 1.5 0 0 0 91.39 275.12ZM91.82 274.72L87.33 267.4A10.09 10.09 0 0 1 90.25 266.19L92.25 274.54A1.5 1.5 0 0 0 91.82 274.72Z" fill="#000000" stroke="#000" stroke-width="0.85"/><circle cx="92.6" cy="276" r="16.7" fill="none" stroke="#b0b0b0" stroke-width="0.7"/><circle cx="92.6" cy="276" r="31.44" fill="none" stroke="#b0b0b0" stroke-width="0.7"/><circle cx="92.6" cy="276" r="46.17" fill="none" stroke="#b0b0b0" stroke-width="0.7"/><circle cx="92.6" cy="276" r="60.91" fill="none" stroke="#b0b0b0" stroke-width="0.7"/><line x1="92.6" y1="276" x2="92.6" y2="200.35" stroke="#b0b0b0" stroke-width="0.7"/><line x1="92.6" y1="276" x2="146.09" y2="222.51" stroke="#b0b0b0" stroke-width="0.7"/><line x1="92.6" y1="276" x2="168.25" y2="276" stroke="#b0b0b0" stroke-width="0.7"/><line x1="92.6" y1="276" x2="146.09" y2="329.49" stroke="#b0b0b0" stroke-width="0.7"/><line x1="92.6" y1="276" x2="92.6" y2="351.65" stroke="#b0b0b0" stroke-width="0.7"/><line x1="92.6" y1="276" x2="39.11" y2="329.49" stroke="#b0b0b0" stroke-width="0.7"/><line x1="92.6" y1="276" x2="16.95" y2="276" stroke="#b0b0b0" stroke-width="0.7"/><line x1="92.6" y1="276" x2="39.11" y2="222.51" stroke="#b0b0b0" stroke-width="0.7"/><circle cx="92.6" cy="276" r="75.65" fill="none" stroke="#000" stroke-width="0.75"/><text x="92.6" y="189.2" font-size="7.3" text-anchor="middle" dominant-baseline="central">N</text><text x="153.98" y="214.62" font-size="7.3" text-anchor="middle" dominant-baseline="central">N-E</text><text x="179.4" y="276" font-size="7.3" text-anchor="middle" dominant-baseline="central">E</text><text x="153.98" y="337.38" font-size="7.3" text-anchor="middle" dominant-baseline="central">S-E</text><text x="92.6" y="362.8" font-size="7.3" text-anchor="middle" dominant-baseline="central">S</text><text x="31.22" y="337.38" font-size="7.3" text-anchor="middle" dominant-baseline="central">S-W</text><text x="5.8" y="276" font-size="7.3" text-anchor="middle" dominant-baseline="central">W</text><text x="31.22" y="214.62" font-size="7.3" text-anchor="middle" dominant-baseline="central">N-W</text><text x="99.7" y="259.49" font-size="7.3">3%</text><text x="105.34" y="245.88" font-size="7.3">6%</text><text x="110.98" y="232.26" font-size="7.3">9%</text><text x="116.62" y="218.64" font-size="7.3">12%</text><text x="122.26" y="205.03" font-size="7.3">15%</text><text x="92.6" y="183.85" font-size="10.3" text-anchor="middle">ERA5</text></g>
<g><path d="M331.54 267.01L333.53 266.69A59.51 59.51 0 0 1 333.53 285.31L331.54 284.99A57.49 57.49 0 0 0 331.54 267.01ZM296.78 292.01L298.01 292.9A28.75 28.75 0 0 1 291.65 299.26L290.76 298.03A27.23 27.23 0 0 0 296.78 292.01ZM234.33 300.77L231.32 302.61A50.94 50.94 0 0 1 225.22 287.89L228.65 287.07A47.41 47.41 0 0 0 234.33 300.77ZM254.15 271.06L251.95 270.53A23.45 23.45 0 0 1 254.75 263.75L256.69 264.93A21.18 21.18 0 0 0 254.15 271.06ZM249.86 257.92L248.64 257.03A32.28 32.28 0 0 1 255.78 249.89L256.67 251.11A30.76 30.76 0 0 0 249.86 257.92Z" fill="#ffffff" stroke="#000" stroke-width="0.85"/><path d="M273.09 265.54L272.78 263.55A12.61 12.61 0 0 1 276.72 263.55L276.41 265.54A10.59 10.59 0 0 0 273.09 265.54ZM278.28 261.29L279.11 257.86A18.66 18.66 0 0 1 284.5 260.09L282.66 263.1A15.13 15.13 0 0 0 278.28 261.29ZM325.31 267.99L331.54 267.01A57.49 57.49 0 0 1 331.54 284.99L325.31 284.01A51.19 51.19 0 0 0 325.31 267.99ZM308.1 284.01L310.06 284.48A36.31 36.31 0 0 1 305.71 294.97L303.99 293.92A34.29 34.29 0 0 0 308.1 284.01ZM295.56 291.12L296.78 292.01A27.23 27.23 0 0 1 290.76 298.03L289.87 296.81A25.72 25.72 0 0 0 295.56 291.12ZM277.35 292.44L277.69 294.58A18.81 18.81 0 0 1 271.81 294.58L272.15 292.44A16.64 16.64 0 0 0 277.35 292.44ZM267.22 307.39L265.68 313.76A38.83 38.83 0 0 1 254.46 309.11L257.89 303.52A32.28 32.28 0 0 0 267.22 307.39ZM259.63 296.81L257.26 300.07A29.76 29.76 0 0 1 250.68 293.49L253.94 291.12A25.72 25.72 0 0 0 259.63 296.81ZM249.81 291.28L234.33 300.77A47.41 47.41 0 0 1 228.65 287.07L246.31 282.83A29.25 29.25 0 0 0 249.81 291.28ZM248.85 280.1L237.39 281.92A37.83 37.83 0 0 1 237.39 270.08L248.85 271.9A26.23 26.23 0 0 0 248.85 280.1ZM257.59 271.88L254.15 271.06A21.18 21.18 0 0 1 256.69 264.93L259.7 266.78A17.65 17.65 0 0 0 257.59 271.88ZM253.13 260.29L249.86 257.92A30.76 30.76 0 0 1 256.67 251.11L259.04 254.38A26.73 26.73 0 0 0 253.13 260.29ZM262.1 255.36L258.41 249.34A31.27 31.27 0 0 1 267.45 245.6L269.1 252.46A24.21 24.21 0 0 0 262.1 255.36Z" fill="#a9c8c8" stroke="#000" stroke-width="0.85"/><path d="M273.49 268.03L273.09 265.54A10.59 10.59 0 0 1 276.41 265.54L276.01 268.03A8.07 8.07 0 0 0 273.49 268.03ZM277.34 265.21L278.28 261.29A15.13 15.13 0 0 1 282.66 263.1L280.55 266.54A11.1 11.1 0 0 0 277.34 265.21ZM284.83 262.13L291.94 252.34A29.25 29.25 0 0 1 298.41 258.81L288.62 265.92A17.15 17.15 0 0 0 284.83 262.13ZM296.68 262.56L304.21 257.95A34.55 34.55 0 0 1 308.34 267.94L299.76 270A25.72 25.72 0 0 0 296.68 262.56ZM306.13 271.03L325.31 267.99A51.19 51.19 0 0 1 325.31 284.01L306.13 280.97A31.77 31.77 0 0 0 306.13 271.03ZM292.89 280.36L308.1 284.01A34.29 34.29 0 0 1 303.99 293.92L290.66 285.75A18.66 18.66 0 0 0 292.89 280.36ZM292.29 288.75L295.56 291.12A25.72 25.72 0 0 1 289.87 296.81L287.5 293.54A21.69 21.69 0 0 0 292.29 288.75ZM285.03 292.77L285.55 293.63A20.68 20.68 0 0 1 279.58 296.11L279.34 295.13A19.67 19.67 0 0 0 285.03 292.77ZM277.27 291.94L277.35 292.44A16.64 16.64 0 0 1 272.15 292.44L272.23 291.94A16.14 16.14 0 0 0 277.27 291.94ZM268.63 301.5L267.22 307.39A32.28 32.28 0 0 1 257.89 303.52L261.05 298.36A26.23 26.23 0 0 0 268.63 301.5ZM264.37 290.28L259.63 296.81A25.72 25.72 0 0 1 253.94 291.12L260.47 286.38A17.65 17.65 0 0 0 264.37 290.28ZM253.68 288.91L249.81 291.28A29.25 29.25 0 0 1 246.31 282.83L250.72 281.77A24.71 24.71 0 0 0 253.68 288.91ZM258.81 278.52L248.85 280.1A26.23 26.23 0 0 1 248.85 271.9L258.81 273.48A16.14 16.14 0 0 0 258.81 278.52ZM262.49 273.06L257.59 271.88A17.65 17.65 0 0 1 259.7 266.78L264 269.41A12.61 12.61 0 0 0 262.49 273.06ZM259.25 264.74L253.13 260.29A26.73 26.73 0 0 1 259.04 254.38L263.49 260.5A19.16 19.16 0 0 0 259.25 264.74ZM265.53 260.95L262.1 255.36A24.21 24.21 0 0 1 269.1 252.46L270.63 258.84A17.65 17.65 0 0 0 265.53 260.95Z" fill="#707b90" stroke="#000" stroke-width="0.85"/><path d="M273.96 271.02L273.49 268.03A8.07 8.07 0 0 1 276.01 268.03L275.54 271.02A5.04 5.04 0 0 0 273.96 271.02ZM276.16 270.12L277.34 265.21A11.1 11.1 0 0 1 280.55 266.54L277.91 270.84A6.05 6.05 0 0 0 276.16 270.12ZM281.27 267.02L284.83 262.13A17.15 17.15 0 0 1 288.62 265.92L283.73 269.48A11.1 11.1 0 0 0 281.27 267.02ZM284.21 270.2L296.68 262.56A25.72 25.72 0 0 1 299.76 270L285.54 273.41A11.1 11.1 0 0 0 284.21 270.2ZM285.71 274.26L306.13 271.03A31.77 31.77 0 0 1 306.13 280.97L285.71 277.74A11.1 11.1 0 0 0 285.71 274.26ZM285.54 278.59L292.89 280.36A18.66 18.66 0 0 1 290.66 285.75L284.21 281.8A11.1 11.1 0 0 0 285.54 278.59ZM283.73 282.52L292.29 288.75A21.69 21.69 0 0 1 287.5 293.54L281.27 284.98A11.1 11.1 0 0 0 283.73 282.52ZM279.49 283.74L285.03 292.77A19.67 19.67 0 0 1 279.34 295.13L276.87 284.83A9.08 9.08 0 0 0 279.49 283.74ZM276.17 284.97L277.27 291.94A16.14 16.14 0 0 1 272.23 291.94L273.33 284.97A9.08 9.08 0 0 0 276.17 284.97ZM272.16 286.79L268.63 301.5A26.23 26.23 0 0 1 261.05 298.36L268.95 285.46A11.1 11.1 0 0 0 272.16 286.79ZM268.23 284.98L264.37 290.28A17.65 17.65 0 0 1 260.47 286.38L265.77 282.52A11.1 11.1 0 0 0 268.23 284.98ZM265.29 281.8L253.68 288.91A24.71 24.71 0 0 1 250.72 281.77L263.96 278.59A11.1 11.1 0 0 0 265.29 281.8ZM263.79 277.74L258.81 278.52A16.14 16.14 0 0 1 258.81 273.48L263.79 274.26A11.1 11.1 0 0 0 263.79 277.74ZM263.96 273.41L262.49 273.06A12.61 12.61 0 0 1 264 269.41L265.29 270.2A11.1 11.1 0 0 0 263.96 273.41ZM265.77 269.48L259.25 264.74A19.16 19.16 0 0 1 263.49 260.5L268.23 267.02A11.1 11.1 0 0 0 265.77 269.48ZM268.95 266.54L265.53 260.95A17.65 17.65 0 0 1 270.63 258.84L272.16 265.21A11.1 11.1 0 0 0 268.95 266.54Z" fill="#38384e" stroke="#000" stroke-width="0.85"/><path d="M274.52 274.52L273.96 271.02A5.04 5.04 0 0 1 275.54 271.02L274.98 274.52A1.5 1.5 0 0 0 274.52 274.52ZM275.1 274.54L276.16 270.12A6.05 6.05 0 0 1 277.91 270.84L275.53 274.72A1.5 1.5 0 0 0 275.1 274.54ZM275.63 274.79L281.27 267.02A11.1 11.1 0 0 1 283.73 269.48L275.96 275.12A1.5 1.5 0 0 0 275.63 274.79ZM276.03 275.22L284.21 270.2A11.1 11.1 0 0 1 285.54 273.41L276.21 275.65A1.5 1.5 0 0 0 276.03 275.22ZM276.23 275.77L285.71 274.26A11.1 11.1 0 0 1 285.71 277.74L276.23 276.23A1.5 1.5 0 0 0 276.23 275.77ZM276.21 276.35L285.54 278.59A11.1 11.1 0 0 1 284.21 281.8L276.03 276.78A1.5 1.5 0 0 0 276.21 276.35ZM275.96 276.88L283.73 282.52A11.1 11.1 0 0 1 281.27 284.98L275.63 277.21A1.5 1.5 0 0 0 275.96 276.88ZM275.53 277.28L279.49 283.74A9.08 9.08 0 0 1 276.87 284.83L275.1 277.46A1.5 1.5 0 0 0 275.53 277.28ZM274.98 277.48L276.17 284.97A9.08 9.08 0 0 1 273.33 284.97L274.52 277.48A1.5 1.5 0 0 0 274.98 277.48ZM274.4 277.46L272.16 286.79A11.1 11.1 0 0 1 268.95 285.46L273.97 277.28A1.5 1.5 0 0 0 274.4 277.46ZM273.87 277.21L268.23 284.98A11.1 11.1 0 0 1 265.77 282.52L273.54 276.88A1.5 1.5 0 0 0 273.87 277.21ZM273.47 276.78L265.29 281.8A11.1 11.1 0 0 1 263.96 278.59L273.29 276.35A1.5 1.5 0 0 0 273.47 276.78ZM273.27 276.23L263.79 277.74A11.1 11.1 0 0 1 263.79 274.26L273.27 275.77A1.5 1.5 0 0 0 273.27 276.23ZM273.29 275.65L263.96 273.41A11.1 11.1 0 0 1 265.29 270.2L273.47 275.22A1.5 1.5 0 0 0 273.29 275.65ZM273.54 275.12L265.77 269.48A11.1 11.1 0 0 1 268.23 267.02L273.87 274.79A1.5 1.5 0 0 0 273.54 275.12ZM273.97 274.72L268.95 266.54A11.1 11.1 0 0 1 272.16 265.21L274.4 274.54A1.5 1.5 0 0 0 273.97 274.72Z" fill="#000000" stroke="#000" stroke-width="0.85"/><circle cx="274.75" cy="276" r="16.7" fill="none" stroke="#b0b0b0" stroke-width="0.7"/><circle cx="274.75" cy="276" r="31.44" fill="none" stroke="#b0b0b0" stroke-width="0.7"/><circle cx="274.75" cy="276" r="46.17" fill="none" stroke="#b0b0b0" stroke-width="0.7"/><circle cx="274.75" cy="276" r="60.91" fill="none" stroke="#b0b0b0" stroke-width="0.7"/><line x1="274.75" y1="276" x2="274.75" y2="200.35" stroke="#b0b0b0" stroke-width="0.7"/><line x1="274.75" y1="276" x2="328.24" y2="222.51" stroke="#b0b0b0" stroke-width="0.7"/><line x1="274.75" y1="276" x2="350.4" y2="276" stroke="#b0b0b0" stroke-width="0.7"/><line x1="274.75" y1="276" x2="328.24" y2="329.49" stroke="#b0b0b0" stroke-width="0.7"/><line x1="274.75" y1="276" x2="274.75" y2="351.65" stroke="#b0b0b0" stroke-width="0.7"/><line x1="274.75" y1="276" x2="221.26" y2="329.49" stroke="#b0b0b0" stroke-width="0.7"/><line x1="274.75" y1="276" x2="199.1" y2="276" stroke="#b0b0b0" stroke-width="0.7"/><line x1="274.75" y1="276" x2="221.26" y2="222.51" stroke="#b0b0b0" stroke-width="0.7"/><circle cx="274.75" cy="276" r="75.65" fill="none" stroke="#000" stroke-width="0.75"/><text x="274.75" y="189.2" font-size="7.3" text-anchor="middle" dominant-baseline="central">N</text><text x="336.13" y="214.62" font-size="7.3" text-anchor="middle" dominant-baseline="central">N-E</text><text x="361.55" y="276" font-size="7.3" text-anchor="middle" dominant-baseline="central">E</text><text x="336.13" y="337.38" font-size="7.3" text-anchor="middle" dominant-baseline="central">S-E</text><text x="274.75" y="362.8" font-size="7.3" text-anchor="middle" dominant-baseline="central">S</text><text x="213.37" y="337.38" font-size="7.3" text-anchor="middle" dominant-baseline="central">S-W</text><text x="187.95" y="276" font-size="7.3" text-anchor="middle" dominant-baseline="central">W</text><text x="213.37" y="214.62" font-size="7.3" text-anchor="middle" dominant-baseline="central">N-W</text><text x="281.85" y="259.49" font-size="7.3">3%</text><text x="287.49" y="245.88" font-size="7.3">6%</text><text x="293.13" y="232.26" font-size="7.3">9%</text><text x="298.77" y="218.64" font-size="7.3">12%</text><text x="304.41" y="205.03" font-size="7.3">15%</text><text x="274.75" y="183.85" font-size="10.3" text-anchor="middle">NORA3</text></g>
<g><path d="M509.7 267.72L511.7 267.4A54.97 54.97 0 0 1 511.7 284.6L509.7 284.28A52.96 52.96 0 0 0 509.7 267.72ZM488.41 298.53L489.63 299.42A39.84 39.84 0 0 1 480.82 308.23L479.93 307.01A38.33 38.33 0 0 0 488.41 298.53ZM440.21 299.66L437.83 302.93A33.29 33.29 0 0 1 430.47 295.57L433.74 293.19A29.25 29.25 0 0 0 440.21 299.66ZM421.04 281.76L419.54 282A38.33 38.33 0 0 1 419.54 270L421.04 270.24A36.82 36.82 0 0 0 421.04 281.76ZM431.41 269.76L429.2 269.23A29 29 0 0 1 432.67 260.85L434.61 262.03A26.73 26.73 0 0 0 431.41 269.76ZM442.12 251.06L441.19 249.55A31.02 31.02 0 0 1 450.16 245.84L450.57 247.56A29.25 29.25 0 0 0 442.12 251.06Z" fill="#ffffff" stroke="#000" stroke-width="0.85"/><path d="M469.85 258.86L470.74 257.64A22.7 22.7 0 0 1 475.76 262.66L474.54 263.55A21.18 21.18 0 0 0 469.85 258.86ZM489.65 256.24L493.31 254A42.11 42.11 0 0 1 498.35 266.17L494.18 267.17A37.83 37.83 0 0 0 489.65 256.24ZM506.96 268.15L509.7 267.72A52.96 52.96 0 0 1 509.7 284.28L506.96 283.85A50.18 50.18 0 0 0 506.96 268.15ZM487.59 297.94L488.41 298.53A38.33 38.33 0 0 1 479.93 307.01L479.34 306.19A37.32 37.32 0 0 0 487.59 297.94ZM450.1 306.4L448.92 311.31A36.31 36.31 0 0 1 438.43 306.96L441.06 302.66A31.27 31.27 0 0 0 450.1 306.4ZM443.47 295.18L440.21 299.66A29.25 29.25 0 0 1 433.74 293.19L438.22 289.93A23.7 23.7 0 0 0 443.47 295.18ZM421.28 298.14L412.25 303.67A52.96 52.96 0 0 1 405.91 288.36L416.21 285.89A42.36 42.36 0 0 0 421.28 298.14ZM434.98 279.55L421.04 281.76A36.82 36.82 0 0 1 421.04 270.24L434.98 272.45A22.7 22.7 0 0 0 434.98 279.55ZM435.33 270.7L431.41 269.76A26.73 26.73 0 0 1 434.61 262.03L438.05 264.14A22.7 22.7 0 0 0 435.33 270.7ZM437.82 261.77L434.96 259.7A27.74 27.74 0 0 1 441.1 253.56L443.17 256.42A24.21 24.21 0 0 0 437.82 261.77ZM444.22 254.5L442.12 251.06A29.25 29.25 0 0 1 450.57 247.56L451.51 251.48A25.22 25.22 0 0 0 444.22 254.5Z" fill="#a9c8c8" stroke="#000" stroke-width="0.85"/><path d="M455.98 267.03L454.8 259.56A16.64 16.64 0 0 1 460 259.56L458.82 267.03A9.08 9.08 0 0 0 455.98 267.03ZM459.52 267.17L460.81 261.78A14.63 14.63 0 0 1 465.04 263.53L462.14 268.26A9.08 9.08 0 0 0 459.52 267.17ZM464.81 265.8L469.85 258.86A21.18 21.18 0 0 1 474.54 263.55L467.6 268.59A12.61 12.61 0 0 0 464.81 265.8ZM482.77 260.45L489.65 256.24A37.83 37.83 0 0 1 494.18 267.17L486.33 269.05A29.76 29.76 0 0 0 482.77 260.45ZM487.29 271.27L506.96 268.15A50.18 50.18 0 0 1 506.96 283.85L487.29 280.73A30.26 30.26 0 0 0 487.29 271.27ZM472.11 279.53L480.94 281.65A24.21 24.21 0 0 1 478.04 288.65L470.3 283.91A15.13 15.13 0 0 0 472.11 279.53ZM482.7 294.38L487.59 297.94A37.32 37.32 0 0 1 479.34 306.19L475.78 301.3A31.27 31.27 0 0 0 482.7 294.38ZM462.67 284.6L463.72 286.32A12.1 12.1 0 0 1 460.23 287.77L459.75 285.81A10.09 10.09 0 0 0 462.67 284.6ZM460.16 293.43L461.27 300.41A24.71 24.71 0 0 1 453.53 300.41L454.64 293.43A17.65 17.65 0 0 0 460.16 293.43ZM451.75 299.54L450.1 306.4A31.27 31.27 0 0 1 441.06 302.66L444.75 296.64A24.21 24.21 0 0 0 451.75 299.54ZM447.02 290.28L443.47 295.18A23.7 23.7 0 0 1 438.22 289.93L443.12 286.38A17.65 17.65 0 0 0 447.02 290.28ZM433.75 290.49L421.28 298.14A42.36 42.36 0 0 1 416.21 285.89L430.43 282.48A27.74 27.74 0 0 0 433.75 290.49ZM442.46 278.37L434.98 279.55A22.7 22.7 0 0 1 434.98 272.45L442.46 273.63A15.13 15.13 0 0 0 442.46 278.37ZM442.69 272.47L435.33 270.7A22.7 22.7 0 0 1 438.05 264.14L444.5 268.09A15.13 15.13 0 0 0 442.69 272.47ZM444.34 266.51L437.82 261.77A24.21 24.21 0 0 1 443.17 256.42L447.91 262.94A16.14 16.14 0 0 0 444.34 266.51ZM448.18 260.95L444.22 254.5A25.22 25.22 0 0 1 451.51 251.48L453.28 258.84A17.65 17.65 0 0 0 448.18 260.95Z" fill="#707b90" stroke="#000" stroke-width="0.85"/><path d="M456.14 268.03L455.98 267.03A9.08 9.08 0 0 1 458.82 267.03L458.66 268.03A8.07 8.07 0 0 0 456.14 268.03ZM459.05 269.13L459.52 267.17A9.08 9.08 0 0 1 462.14 268.26L461.09 269.98A7.06 7.06 0 0 0 459.05 269.13ZM462.14 269.47L464.81 265.8A12.61 12.61 0 0 1 467.6 268.59L463.93 271.26A8.07 8.07 0 0 0 462.14 269.47ZM466 270.73L482.77 260.45A29.76 29.76 0 0 1 486.33 269.05L467.21 273.65A10.09 10.09 0 0 0 466 270.73ZM467.36 274.42L487.29 271.27A30.26 30.26 0 0 1 487.29 280.73L467.36 277.58A10.09 10.09 0 0 0 467.36 274.42ZM466.23 278.12L472.11 279.53A15.13 15.13 0 0 1 470.3 283.91L465.14 280.74A9.08 9.08 0 0 0 466.23 278.12ZM465.56 281.93L482.7 294.38A31.27 31.27 0 0 1 475.78 301.3L463.33 284.16A10.09 10.09 0 0 0 465.56 281.93ZM461.09 282.02L462.67 284.6A10.09 10.09 0 0 1 459.75 285.81L459.05 282.87A7.06 7.06 0 0 0 461.09 282.02ZM458.82 284.97L460.16 293.43A17.65 17.65 0 0 1 454.64 293.43L455.98 284.97A9.08 9.08 0 0 0 458.82 284.97ZM455.28 284.83L451.75 299.54A24.21 24.21 0 0 1 444.75 296.64L452.66 283.74A9.08 9.08 0 0 0 455.28 284.83ZM452.66 282.53L447.02 290.28A17.65 17.65 0 0 1 443.12 286.38L450.87 280.74A8.07 8.07 0 0 0 452.66 282.53ZM444.5 283.91L433.75 290.49A27.74 27.74 0 0 1 430.43 282.48L442.69 279.53A15.13 15.13 0 0 0 444.5 283.91ZM448.43 277.42L442.46 278.37A15.13 15.13 0 0 1 442.46 273.63L448.43 274.58A9.08 9.08 0 0 0 448.43 277.42ZM449.55 274.12L442.69 272.47A15.13 15.13 0 0 1 444.5 268.09L450.52 271.78A8.07 8.07 0 0 0 449.55 274.12ZM450.87 271.26L444.34 266.51A16.14 16.14 0 0 1 447.91 262.94L452.66 269.47A8.07 8.07 0 0 0 450.87 271.26ZM453.18 269.12L448.18 260.95A17.65 17.65 0 0 1 453.28 258.84L455.52 268.15A8.07 8.07 0 0 0 453.18 269.12Z" fill="#38384e" stroke="#000" stroke-width="0.85"/><path d="M457.17 274.52L456.14 268.03A8.07 8.07 0 0 1 458.66 268.03L457.63 274.52A1.5 1.5 0 0 0 457.17 274.52ZM457.75 274.54L459.05 269.13A7.06 7.06 0 0 1 461.09 269.98L458.18 274.72A1.5 1.5 0 0 0 457.75 274.54ZM458.28 274.79L462.14 269.47A8.07 8.07 0 0 1 463.93 271.26L458.61 275.12A1.5 1.5 0 0 0 458.28 274.79ZM458.68 275.22L466 270.73A10.09 10.09 0 0 1 467.21 273.65L458.86 275.65A1.5 1.5 0 0 0 458.68 275.22ZM458.88 275.77L467.36 274.42A10.09 10.09 0 0 1 467.36 277.58L458.88 276.23A1.5 1.5 0 0 0 458.88 275.77ZM458.86 276.35L466.23 278.12A9.08 9.08 0 0 1 465.14 280.74L458.68 276.78A1.5 1.5 0 0 0 458.86 276.35ZM458.61 276.88L465.56 281.93A10.09 10.09 0 0 1 463.33 284.16L458.28 277.21A1.5 1.5 0 0 0 458.61 276.88ZM458.18 277.28L461.09 282.02A7.06 7.06 0 0 1 459.05 282.87L457.75 277.46A1.5 1.5 0 0 0 458.18 277.28ZM457.63 277.48L458.82 284.97A9.08 9.08 0 0 1 455.98 284.97L457.17 277.48A1.5 1.5 0 0 0 457.63 277.48ZM457.05 277.46L455.28 284.83A9.08 9.08 0 0 1 452.66 283.74L456.62 277.28A1.5 1.5 0 0 0 457.05 277.46ZM456.52 277.21L452.66 282.53A8.07 8.07 0 0 1 450.87 280.74L456.19 276.88A1.5 1.5 0 0 0 456.52 277.21ZM456.12 276.78L444.5 283.91A15.13 15.13 0 0 1 442.69 279.53L455.94 276.35A1.5 1.5 0 0 0 456.12 276.78ZM455.92 276.23L448.43 277.42A9.08 9.08 0 0 1 448.43 274.58L455.92 275.77A1.5 1.5 0 0 0 455.92 276.23ZM455.94 275.65L449.55 274.12A8.07 8.07 0 0 1 450.52 271.78L456.12 275.22A1.5 1.5 0 0 0 455.94 275.65ZM456.19 275.12L450.87 271.26A8.07 8.07 0 0 1 452.66 269.47L456.52 274.79A1.5 1.5 0 0 0 456.19 275.12ZM456.62 274.72L453.18 269.12A8.07 8.07 0 0 1 455.52 268.15L457.05 274.54A1.5 1.5 0 0 0 456.62 274.72Z" fill="#000000" stroke="#000" stroke-width="0.85"/><circle cx="457.4" cy="276" r="16.7" fill="none" stroke="#b0b0b0" stroke-width="0.7"/><circle cx="457.4" cy="276" r="31.44" fill="none" stroke="#b0b0b0" stroke-width="0.7"/><circle cx="457.4" cy="276" r="46.17" fill="none" stroke="#b0b0b0" stroke-width="0.7"/><circle cx="457.4" cy="276" r="60.91" fill="none" stroke="#b0b0b0" stroke-width="0.7"/><line x1="457.4" y1="276" x2="457.4" y2="200.35" stroke="#b0b0b0" stroke-width="0.7"/><line x1="457.4" y1="276" x2="510.89" y2="222.51" stroke="#b0b0b0" stroke-width="0.7"/><line x1="457.4" y1="276" x2="533.05" y2="276" stroke="#b0b0b0" stroke-width="0.7"/><line x1="457.4" y1="276" x2="510.89" y2="329.49" stroke="#b0b0b0" stroke-width="0.7"/><line x1="457.4" y1="276" x2="457.4" y2="351.65" stroke="#b0b0b0" stroke-width="0.7"/><line x1="457.4" y1="276" x2="403.91" y2="329.49" stroke="#b0b0b0" stroke-width="0.7"/><line x1="457.4" y1="276" x2="381.75" y2="276" stroke="#b0b0b0" stroke-width="0.7"/><line x1="457.4" y1="276" x2="403.91" y2="222.51" stroke="#b0b0b0" stroke-width="0.7"/><circle cx="457.4" cy="276" r="75.65" fill="none" stroke="#000" stroke-width="0.75"/><text x="457.4" y="189.2" font-size="7.3" text-anchor="middle" dominant-baseline="central">N</text><text x="518.78" y="214.62" font-size="7.3" text-anchor="middle" dominant-baseline="central">N-E</text><text x="544.2" y="276" font-size="7.3" text-anchor="middle" dominant-baseline="central">E</text><text x="518.78" y="337.38" font-size="7.3" text-anchor="middle" dominant-baseline="central">S-E</text><text x="457.4" y="362.8" font-size="7.3" text-anchor="middle" dominant-baseline="central">S</text><text x="396.02" y="337.38" font-size="7.3" text-anchor="middle" dominant-baseline="central">S-W</text><text x="370.6" y="276" font-size="7.3" text-anchor="middle" dominant-baseline="central">W</text><text x="396.02" y="214.62" font-size="7.3" text-anchor="middle" dominant-baseline="central">N-W</text><text x="464.5" y="259.49" font-size="7.3">3%</text><text x="470.14" y="245.88" font-size="7.3">6%</text><text x="475.78" y="232.26" font-size="7.3">9%</text><text x="481.42" y="218.64" font-size="7.3">12%</text><text x="487.06" y="205.03" font-size="7.3">15%</text><text x="457.4" y="183.85" font-size="10.3" text-anchor="middle">CARRA</text></g>
<rect x="13.4" y="101.5" width="71.1" height="68.2" rx="1.5" fill="#fff" fill-opacity="0.8" stroke="#d0d0d0" stroke-width="0.7"/>
<text x="17" y="110.2" font-size="7.5">wind speed [m/s]</text>
<rect x="25" y="115.9" width="15.8" height="5.5" fill="#000000" stroke="#000" stroke-width="0.85"/>
<text x="46.4" y="121.5" font-size="7.5">0 : 4</text>
<rect x="25" y="126.87" width="15.8" height="5.5" fill="#38384e" stroke="#000" stroke-width="0.85"/>
<text x="46.4" y="132.47" font-size="7.5">4 : 8</text>
<rect x="25" y="137.84" width="15.8" height="5.5" fill="#707b90" stroke="#000" stroke-width="0.85"/>
<text x="46.4" y="143.44" font-size="7.5">8 : 12</text>
<rect x="25" y="148.81" width="15.8" height="5.5" fill="#a9c8c8" stroke="#000" stroke-width="0.85"/>
<text x="46.4" y="154.41" font-size="7.5">12 : 16</text>
<rect x="25" y="159.78" width="15.8" height="5.5" fill="#ffffff" stroke="#000" stroke-width="0.85"/>
<text x="46.4" y="165.38" font-size="7.5">16 : 20</text>
</svg></body></html>
